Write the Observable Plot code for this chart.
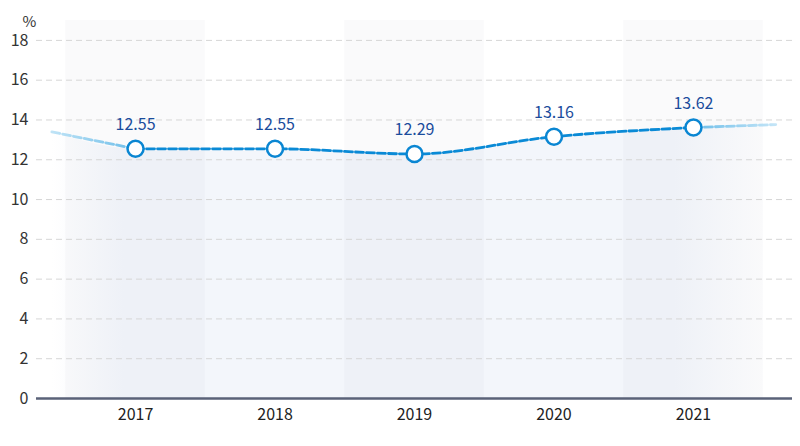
<!DOCTYPE html>
<html>
<head>
<meta charset="utf-8">
<script src="https://cdn.jsdelivr.net/npm/d3@7"></script>
<script src="https://cdn.jsdelivr.net/npm/@observablehq/plot@0.6"></script>
<style>
  html, body { margin: 0; padding: 0; background: #fff; }
  #chart svg { display: block; }
</style>
</head>
<body>
<div id="chart"></div>
<script>
const years = [2017, 2018, 2019, 2020, 2021];
const values = [12.55, 12.55, 12.29, 13.16, 13.62];
const bandYears = [2017, 2019, 2021];
const yTicks = [0, 2, 4, 6, 8, 10, 12, 14, 16, 18];
const leadIn = [{x: 2016.4, y: 13.4}, {x: 2017, y: 12.55}];
const leadOut = [{x: 2021, y: 13.62}, {x: 2021.59, y: 13.77}];

const data = years.map((year, i) => ({x: year, y: values[i]}));
const areaData = [leadIn[0], ...data, leadOut[1]];

const chart = Plot.plot({
  width: 800,
  height: 446,
  marginLeft: 36,
  marginRight: 8,
  marginTop: 20,
  marginBottom: 48,
  style: {fontFamily: "'Noto Sans CJK SC', 'Noto Sans', sans-serif", fontSize: "16px", color: "#333", background: "#fff"},
  x: {type: "linear", domain: [2016.29, 2021.71]},
  y: {domain: [0, 19]},
  marks: [
    Plot.areaY(areaData, {x: "x", y: "y", curve: "monotone-x", fill: "url(#areaGrad)"}),
    Plot.rectY(bandYears, {x1: d => d - 0.5, x2: d => d + 0.5, y1: 0, y2: 19, fill: "#1a2a50", fillOpacity: 0.022}),
    Plot.gridY(yTicks.filter(t => t > 0), {stroke: "#d6d6d6", strokeOpacity: 1, strokeDasharray: "6,4", strokeWidth: 1}),
    Plot.axisY({ticks: yTicks, tickSize: 0, tickPadding: 8, label: null, fill: "#333", fontSize: 16}),
    Plot.axisX({ticks: years, tickFormat: d3.format("d"), tickSize: 0, tickPadding: 10, label: null, fill: "#222", fontSize: 16}),
    Plot.ruleY([0], {stroke: "#5a6278", strokeWidth: 2.5}),
    Plot.line(leadIn, {x: "x", y: "y", stroke: "url(#leadInGrad)", strokeWidth: 2.8, strokeDasharray: "8,3"}),
    Plot.line(leadOut, {x: "x", y: "y", stroke: "url(#leadOutGrad)", strokeWidth: 2.8, strokeDasharray: "8,3"}),
    Plot.line(data, {x: "x", y: "y", curve: "monotone-x", stroke: "#0a8ad6", strokeWidth: 2.8, strokeDasharray: "8,3"}),
    Plot.dot(data, {x: "x", y: "y", r: 8, fill: "#fff", stroke: "#0a86d2", strokeWidth: 2.5}),
    Plot.text(data, {x: "x", y: "y", text: d => d.y.toFixed(2), dy: -24, fill: "#1a4c9c", fontSize: 16}),
    Plot.text(["%"], {frameAnchor: "top-left", dx: -14, dy: -4, fill: "#333", fontSize: 15})
  ]
});

const defs = d3.select(chart).insert("defs", ":first-child");
const ag = defs.append("linearGradient").attr("id", "areaGrad").attr("x1", "0").attr("x2", "1").attr("y1", "0").attr("y2", "0");
[[0, 0], [0.1, 1], [0.86, 1], [0.985, 0]].forEach(([o, a]) =>
  ag.append("stop").attr("offset", o).attr("stop-color", "#f3f6fb").attr("stop-opacity", a));
const li = defs.append("linearGradient").attr("id", "leadInGrad").attr("x1", "0").attr("x2", "1").attr("y1", "0").attr("y2", "0");
li.append("stop").attr("offset", 0).attr("stop-color", "#bfe3f6");
li.append("stop").attr("offset", 1).attr("stop-color", "#6cbde9");
const lo = defs.append("linearGradient").attr("id", "leadOutGrad").attr("x1", "0").attr("x2", "1").attr("y1", "0").attr("y2", "0");
lo.append("stop").attr("offset", 0).attr("stop-color", "#6cbde9");
lo.append("stop").attr("offset", 1).attr("stop-color", "#c4e5f7");

document.getElementById("chart").appendChild(chart);
</script>
</body>
</html>
